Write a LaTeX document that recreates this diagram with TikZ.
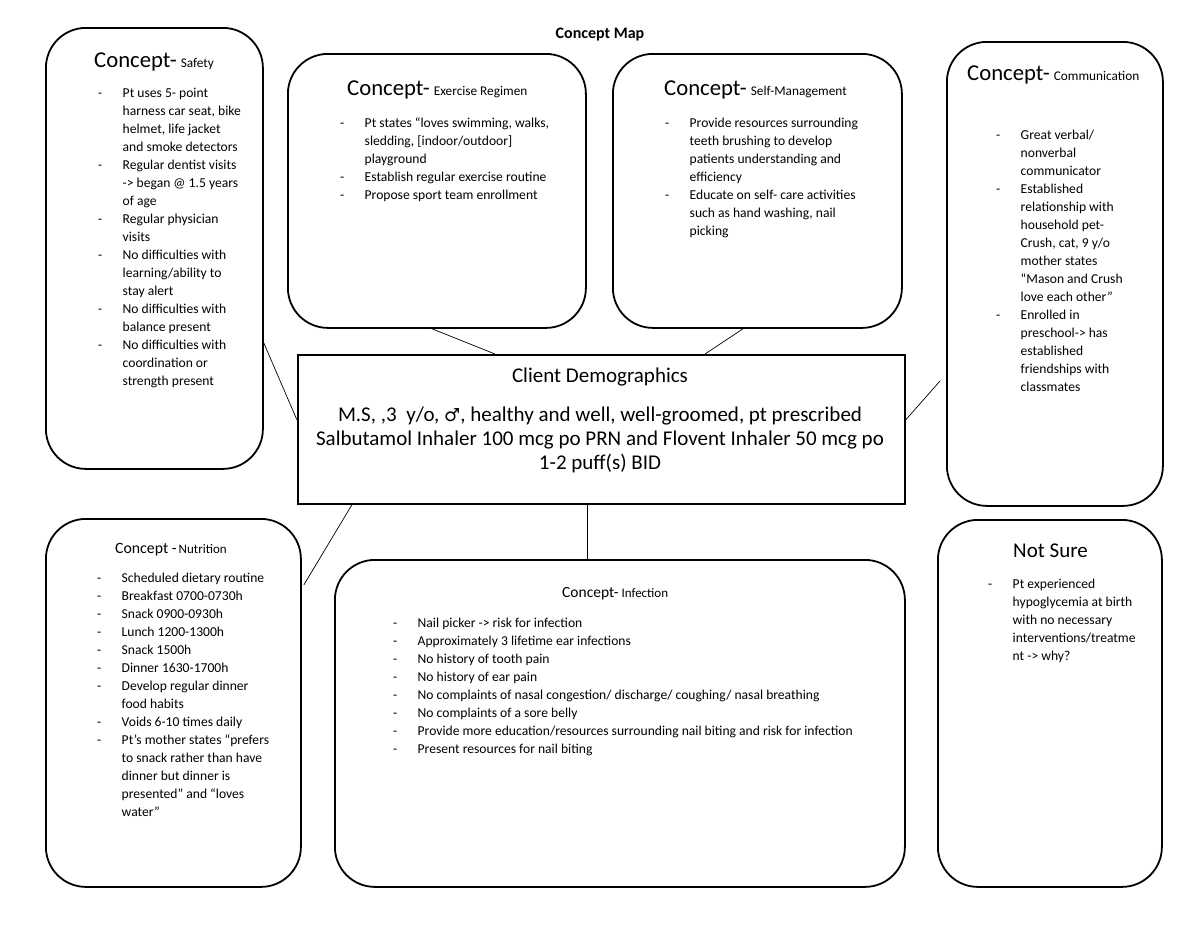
\documentclass[tikz,border=0pt]{standalone}
\usepackage{fontspec}
\setmainfont{Carlito}
\newfontfamily\dejavu{DejaVu Sans}
\usetikzlibrary{calc}
\newcommand\fs[2]{\fontsize{#1}{#2}\selectfont}
\newcommand\blist[1]{\begin{tabular}[t]{@{}p{24.5pt}@{}l@{}}#1\end{tabular}}
\newcommand\ctitle[4]{{\fs{#1}{24}#2}\hspace{4pt}{\fs{#3}{15}#4}}
\begin{document}
\begin{tikzpicture}[x=1pt,y=-1pt,
  rbox/.style={draw, line width=1.8pt, rounded corners=40pt, anchor=north west, inner sep=0pt},
  cbox/.style={draw, line width=1.6pt, anchor=north west, inner sep=0pt},
  link/.style={line width=0.7pt},
  body/.style={anchor=base west, inner sep=0pt, font=\fs{13.6}{18}},
  ttl/.style={anchor=base west, inner sep=0pt},
]
\useasboundingbox (0,0) rectangle (1200,927);
\fill[white] (0,0) rectangle (1200,927);

% title
\node[anchor=base, inner sep=0pt, font=\bfseries\fs{16}{18}] (maptitle) at (600,38) {Concept Map};

% boxes
\node[rbox, minimum width=217, minimum height=441] (safety) at (45,27) {};
\node[rbox, minimum width=298, minimum height=274] (exercise) at (287,53) {};
\node[rbox, minimum width=289, minimum height=274] (selfm) at (612,53) {};
\node[rbox, minimum width=216, minimum height=464] (comm) at (946,41) {};
\node[cbox, minimum width=607, minimum height=149] (demo) at (297,354) {};
\node[rbox, minimum width=255, minimum height=368] (nutr) at (45,518) {};
\node[rbox, minimum width=570, minimum height=327] (infect) at (334,559) {};
\node[rbox, minimum width=224, minimum height=367] (notsure) at (937,519) {};

% connectors
\draw[link] ($(safety.north east)+(0,316)$) -- ($(demo.north west)+(0,66)$);
\draw[link] ($(exercise.south west)+(145,0)$) -- ($(demo.north west)+(198,0)$);
\draw[link] ($(selfm.south west)+(131,0)$) -- ($(demo.north west)+(408,0)$);
\coordinate (commend) at ($(comm.north west)+(-6,340)$);
\draw[link] (commend) -- ($(demo.north east)+(0,66)$);
\draw[link] ($(demo.south west)+(55,0)$) -- ($(nutr.north east)+(2,67)$);
\draw[link] ($(demo.south west)+(290,0)$) -- ($(infect.north west)+(253,0)$);

% Safety
\node[ttl] (safetyT) at (94,67) {\ctitle{22.7}{Concept-}{13.3}{Safety}};
\node[body] (safetyL) at (98,97) {\blist{
- & Pt uses 5- point\\
  & harness car seat, bike\\
  & helmet, life jacket\\
  & and smoke detectors\\
- & Regular dentist visits\\
  & -> began @ 1.5 years\\
  & of age\\
- & Regular physician\\
  & visits\\
- & No difficulties with\\
  & learning/ability to\\
  & stay alert\\
- & No difficulties with\\
  & balance present\\
- & No difficulties with\\
  & coordination or\\
  & strength present}};

% Exercise
\node[ttl] (exerciseT) at (347,95) {\ctitle{22.7}{Concept-}{13.3}{Exercise Regimen}};
\node[body] (exerciseL) at (340,127) {\blist{
- & Pt states “loves swimming, walks,\\
  & sledding, [indoor/outdoor]\\
  & playground\\
- & Establish regular exercise routine\\
- & Propose sport team enrollment}};

% Self-management
\node[ttl] (selfmT) at (664,95) {\ctitle{22.7}{Concept-}{13.3}{Self-Management}};
\node[body] (selfmL) at (665,127) {\blist{
- & Provide resources surrounding\\
  & teeth brushing to develop\\
  & patients understanding and\\
  & efficiency\\
- & Educate on self- care activities\\
  & such as hand washing, nail\\
  & picking}};

% Communication
\node[ttl] (commT) at (967,80) {\ctitle{22.7}{Concept-}{13.3}{Communication}};
\node[body] (commL) at (996,139) {\blist{
- & Great verbal/\\
  & nonverbal\\
  & communicator\\
- & Established\\
  & relationship with\\
  & household pet-\\
  & Crush, cat, 9 y/o\\
  & mother states\\
  & “Mason and Crush\\
  & love each other”\\
- & Enrolled in\\
  & preschool-> has\\
  & established\\
  & friendships with\\
  & classmates}};

% Client demographics
\node[anchor=base, inner sep=0pt, font=\fs{21}{24}] (demoT) at (600,382) {Client Demographics};
\node[anchor=base, inner sep=0pt, font=\fs{21}{24}] (demoL) at (600,421) {\begin{tabular}[t]{@{}c@{}}
M.S, ,3\ \ y/o, {\dejavu\fs{18}{24}♂}, healthy and well, well-groomed, pt prescribed\\
Salbutamol Inhaler 100 mcg po PRN and Flovent Inhaler 50 mcg po\\
1-2 puff(s) BID\end{tabular}};

% Nutrition
\node[ttl] (nutrT) at (115,553) {{\fs{15.8}{18}Concept -}\hspace{2pt}{\fs{13}{15}Nutrition}};
\node[body] (nutrL) at (97,582) {\blist{
- & Scheduled dietary routine\\
- & Breakfast 0700-0730h\\
- & Snack 0900-0930h\\
- & Lunch 1200-1300h\\
- & Snack 1500h\\
- & Dinner 1630-1700h\\
- & Develop regular dinner\\
  & food habits\\
- & Voids 6-10 times daily\\
- & Pt’s mother states “prefers\\
  & to snack rather than have\\
  & dinner but dinner is\\
  & presented” and “loves\\
  & water”}};

% Infection
\node[ttl] (infectT) at (562,597) {{\fs{15.5}{18}Concept-}\hspace{3pt}{\fs{13}{15}Infection}};
\node[body] (infectL) at (393,627) {\blist{
- & Nail picker -> risk for infection\\
- & Approximately 3 lifetime ear infections\\
- & No history of tooth pain\\
- & No history of ear pain\\
- & No complaints of nasal congestion/ discharge/ coughing/ nasal breathing\\
- & No complaints of a sore belly\\
- & Provide more education/resources surrounding nail biting and risk for infection\\
- & Present resources for nail biting}};

% Not sure
\node[ttl, font=\fs{21}{24}] (notsureT) at (1013,557) {Not Sure};
\node[body] (notsureL) at (988,588) {\blist{
- & Pt experienced\\
  & hypoglycemia at birth\\
  & with no necessary\\
  & interventions/treatme\\
  & nt -> why?}};
\end{tikzpicture}
\end{document}
